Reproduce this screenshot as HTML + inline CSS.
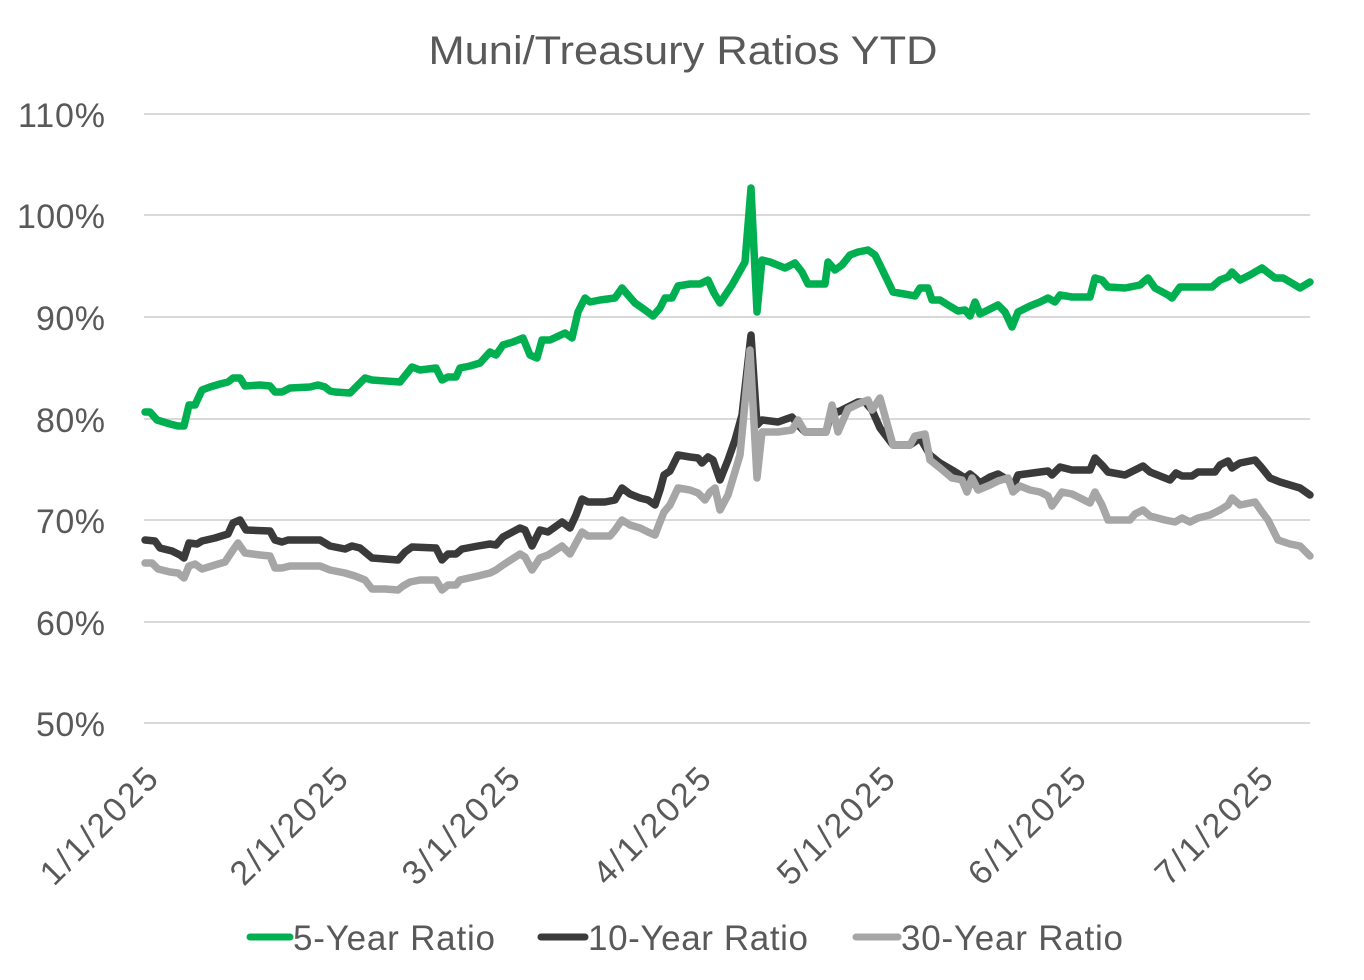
<!DOCTYPE html>
<html><head><meta charset="utf-8"><style>
html,body{margin:0;padding:0;background:#fff;}
svg{display:block;font-family:"Segoe UI","Liberation Sans",sans-serif;}
</style></head><body>
<svg width="1364" height="980" viewBox="0 0 1364 980" xmlns="http://www.w3.org/2000/svg">
<rect width="1364" height="980" fill="#fff"/>
<text x="683" y="64" text-anchor="middle" font-size="40" fill="#595959" textLength="509" lengthAdjust="spacingAndGlyphs">Muni/Treasury Ratios YTD</text>
<g stroke="#d9d9d9" stroke-width="2">
<line x1="144" x2="1310" y1="114" y2="114"/><line x1="144" x2="1310" y1="215" y2="215"/>
<line x1="144" x2="1310" y1="317" y2="317"/><line x1="144" x2="1310" y1="419" y2="419"/>
<line x1="144" x2="1310" y1="520" y2="520"/><line x1="144" x2="1310" y1="622" y2="622"/>
<line x1="144" x2="1310" y1="723" y2="723"/>
</g>
<g font-size="34" fill="#595959" text-anchor="end" lengthAdjust="spacingAndGlyphs">
<text x="105" y="127" textLength="87">110%</text><text x="105" y="228" textLength="88">100%</text>
<text x="105" y="330" textLength="69">90%</text><text x="105" y="432" textLength="69">80%</text>
<text x="105" y="533" textLength="69">70%</text><text x="105" y="635" textLength="69">60%</text>
<text x="105" y="736" textLength="69">50%</text>
</g>
<g font-size="34" fill="#595959" text-anchor="end" lengthAdjust="spacingAndGlyphs">
<text transform="translate(160,781) rotate(-45)" textLength="150">1/1/2025</text>
<text transform="translate(350,781) rotate(-45)" textLength="150">2/1/2025</text>
<text transform="translate(522,781) rotate(-45)" textLength="150">3/1/2025</text>
<text transform="translate(713,781) rotate(-45)" textLength="150">4/1/2025</text>
<text transform="translate(897,781) rotate(-45)" textLength="150">5/1/2025</text>
<text transform="translate(1088,781) rotate(-45)" textLength="150">6/1/2025</text>
<text transform="translate(1275,781) rotate(-45)" textLength="150">7/1/2025</text>
</g>
<g fill="none" stroke-width="7.5" stroke-linejoin="round" stroke-linecap="round">
<polyline stroke="#00b050" points="145,412 150,412 157,420 170,424 178,426 184,426 189,405 195,405 202,390 210,387 220,384 228,382 233,378 240,378 245,386 260,385 270,386 275,392 282,392 290,388 310,387 318,385 325,387 330,391 335,392 350,393 358,385 365,378 372,380 400,382 412,367 420,370 436,368 442,380 448,377 456,377 460,368 470,366 480,363 490,352 496,355 503,345 513,342 523,338 530,355 537,358 542,340 550,340 565,333 572,338 578,312 585,298 590,302 600,300 615,298 622,288 628,295 635,303 645,310 653,316 660,308 665,298 672,298 678,286 690,284 700,284 708,280 714,293 720,303 732,285 745,262 751,188 757,312 762,260 770,262 785,268 795,263 802,272 808,284 825,284 828,262 835,270 842,265 850,255 858,252 868,250 875,255 880,265 893,292 910,295 915,296 920,288 928,288 932,300 940,300 948,305 958,311 965,310 970,316 975,302 980,314 988,310 998,305 1005,312 1012,327 1018,312 1030,306 1040,302 1048,298 1055,302 1060,295 1072,297 1090,297 1095,278 1102,280 1108,287 1125,288 1140,285 1148,278 1155,288 1168,295 1172,298 1180,287 1212,287 1220,280 1228,277 1232,272 1240,280 1250,275 1262,268 1275,278 1283,278 1290,282 1300,288 1310,282"/>
<polyline stroke="#3a3a3a" points="145,540 155,541 160,548 172,551 180,555 184,558 189,543 197,544 202,541 215,538 228,534 233,523 240,520 246,530 270,531 275,540 282,542 288,540 320,540 330,546 345,549 352,546 360,548 372,558 398,560 405,552 412,547 436,548 442,560 448,554 456,554 462,549 478,546 490,544 496,545 503,537 520,528 525,530 532,546 540,530 548,532 562,522 570,528 576,515 582,499 588,502 605,502 615,500 622,488 630,494 640,498 648,500 655,505 660,490 664,475 670,471 678,455 690,457 698,458 702,463 708,457 713,460 720,480 728,460 735,440 742,415 751,335 757,425 762,420 778,422 792,417 798,425 805,432 826,432 832,410 838,412 848,407 858,402 865,402 872,410 880,428 893,445 910,445 920,438 930,455 940,463 952,470 965,478 970,474 975,478 980,483 990,477 998,474 1008,480 1013,487 1018,475 1040,472 1048,471 1052,475 1060,467 1072,470 1090,470 1095,458 1102,465 1108,472 1125,475 1135,470 1143,466 1150,472 1165,478 1170,480 1176,473 1182,476 1192,476 1198,472 1215,472 1220,465 1228,461 1232,468 1240,463 1255,460 1262,468 1270,478 1280,482 1290,485 1300,488 1310,495"/>
<polyline stroke="#a6a6a6" points="145,563 152,563 158,569 170,572 178,573 184,578 189,566 195,564 202,569 215,565 225,562 233,550 238,543 245,553 260,555 270,556 275,568 282,568 290,566 310,566 320,566 330,570 345,573 355,576 365,580 372,589 385,589 398,590 403,586 410,582 420,580 436,580 442,590 448,585 456,585 460,580 478,576 490,573 496,570 503,565 520,554 525,557 532,570 540,558 548,555 562,546 570,554 576,543 582,532 588,536 610,536 615,530 622,520 630,525 640,528 648,532 655,535 660,522 664,512 670,505 678,488 690,490 698,493 705,500 710,492 715,488 720,510 728,495 740,455 750,350 757,478 762,432 778,432 792,430 798,420 805,432 826,432 832,405 838,432 848,409 858,404 868,400 872,410 880,398 893,445 910,445 915,436 925,434 930,460 940,468 952,478 962,480 967,492 972,478 978,490 990,485 998,481 1008,478 1013,492 1020,486 1030,490 1040,492 1048,496 1052,506 1062,492 1072,494 1090,503 1095,492 1102,505 1108,520 1130,520 1135,514 1143,510 1150,516 1165,520 1175,522 1182,518 1190,522 1198,518 1210,515 1220,510 1228,505 1232,498 1240,505 1255,502 1262,512 1268,520 1278,540 1290,544 1300,546 1310,556"/>
</g>
<g stroke-width="7" stroke-linecap="round">
<line x1="250" x2="290" y1="937" y2="937" stroke="#00b050"/>
<line x1="541" x2="585" y1="937" y2="937" stroke="#3a3a3a"/>
<line x1="856" x2="898" y1="937" y2="937" stroke="#a6a6a6"/>
</g>
<g font-size="35" fill="#595959" lengthAdjust="spacingAndGlyphs">
<text x="293" y="950" textLength="202">5-Year Ratio</text>
<text x="588" y="950" textLength="220">10-Year Ratio</text>
<text x="901" y="950" textLength="222">30-Year Ratio</text>
</g>
</svg>
</body></html>
